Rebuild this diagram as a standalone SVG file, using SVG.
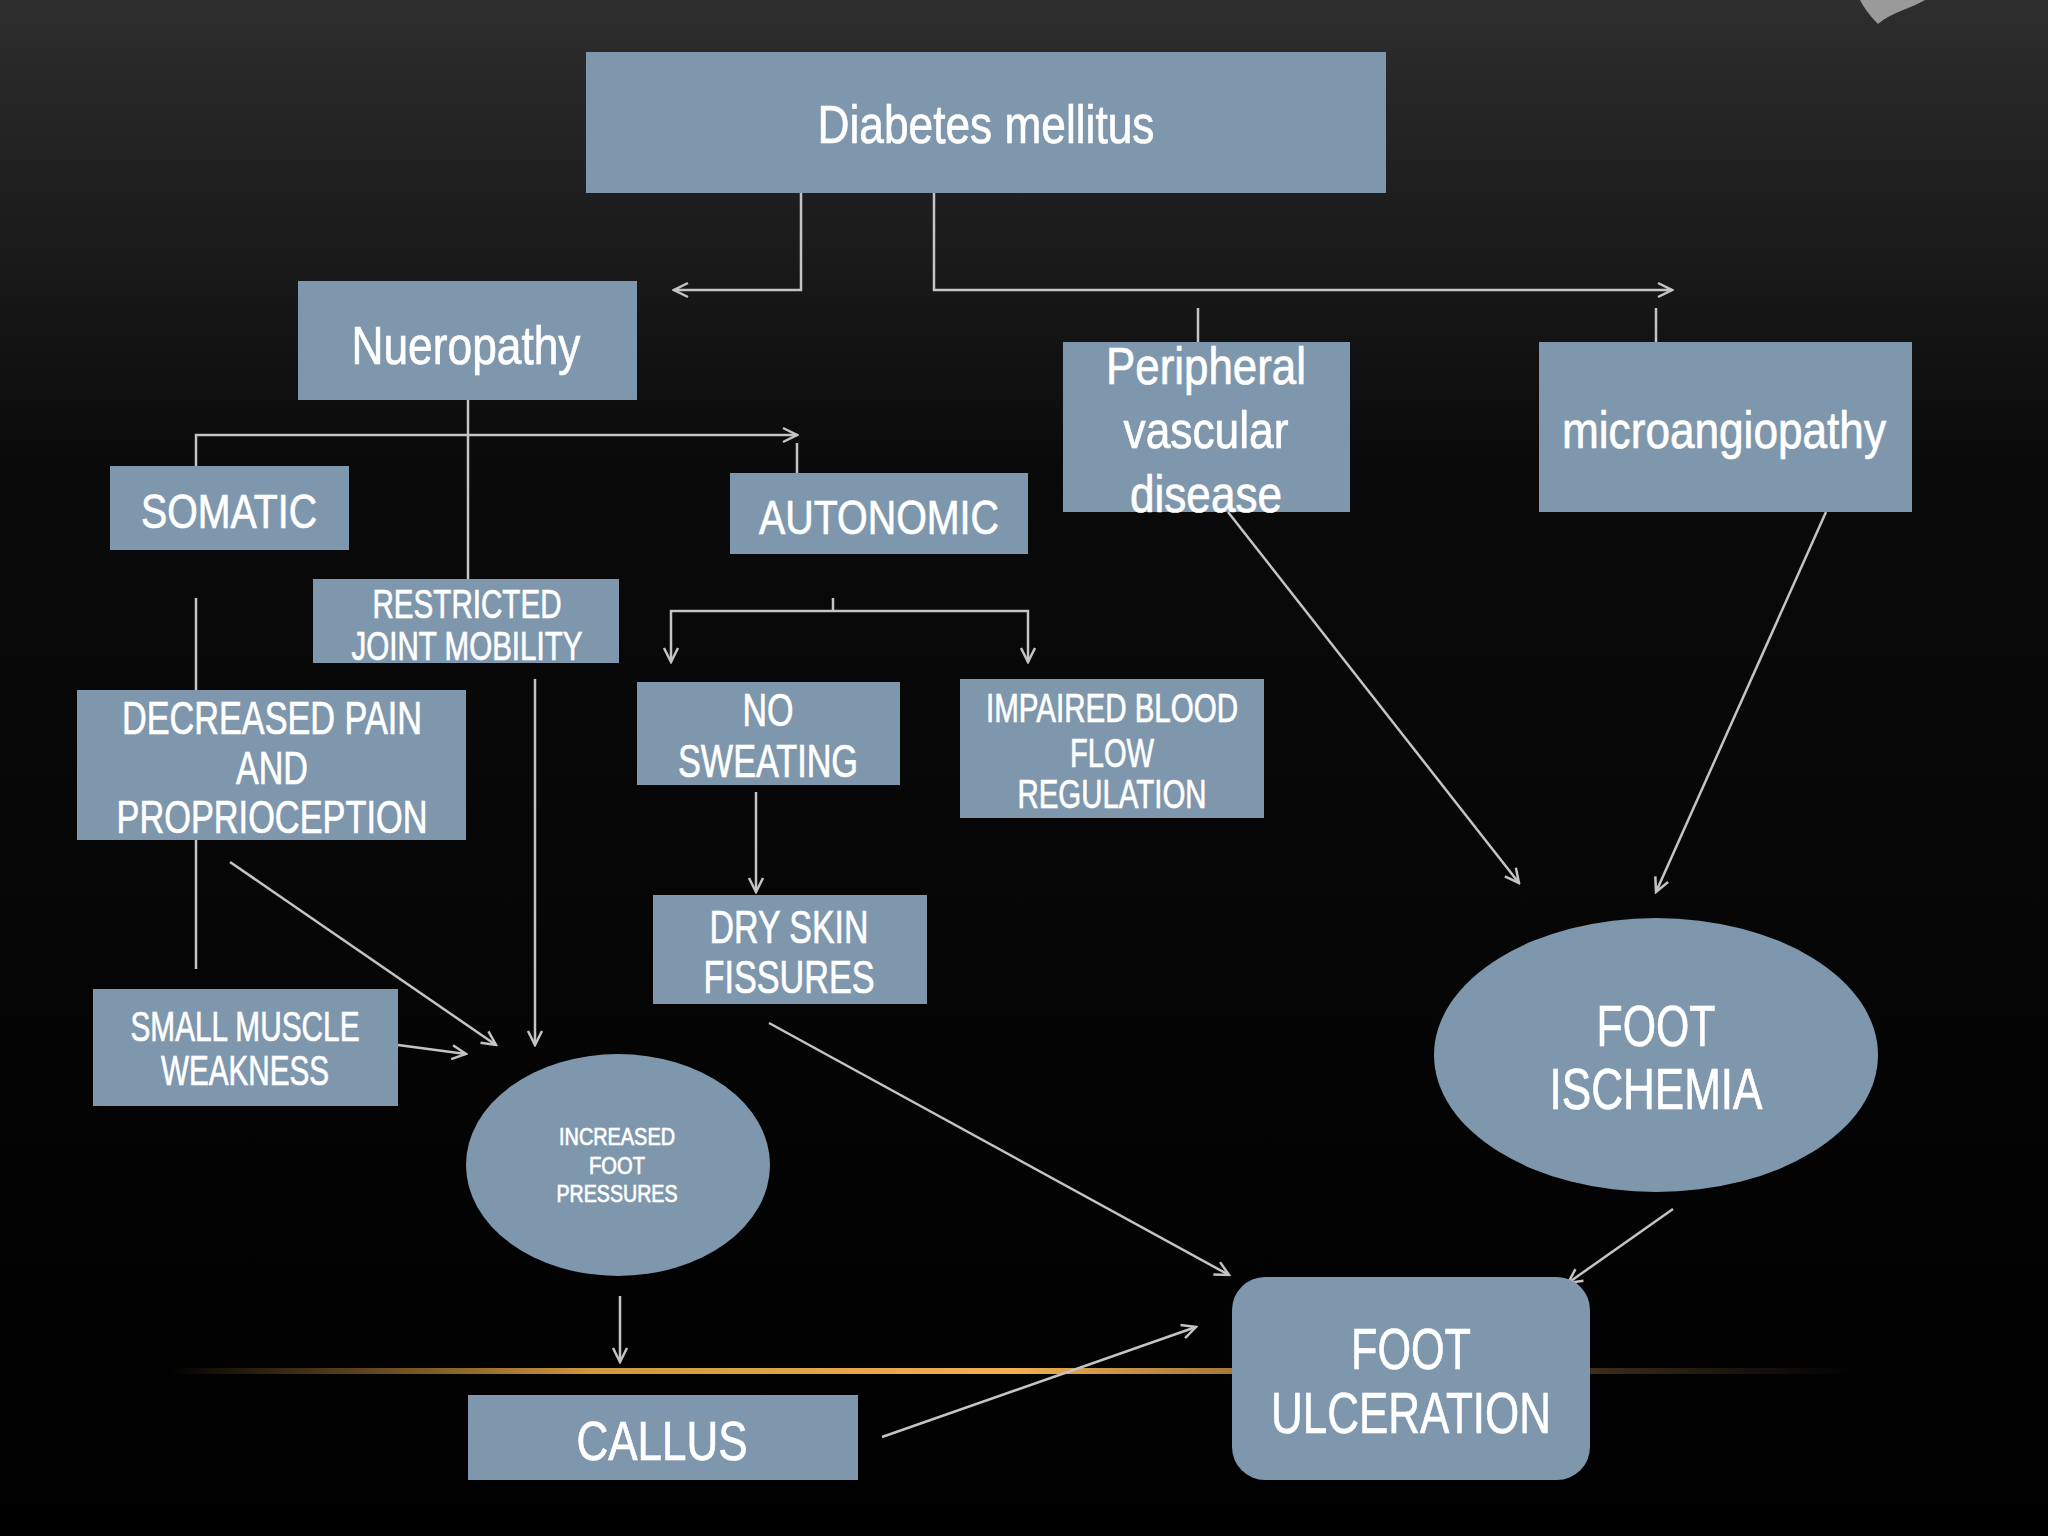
<svg xmlns="http://www.w3.org/2000/svg" width="2048" height="1536" viewBox="0 0 2048 1536">
<defs>
<linearGradient id="bg" x1="0" y1="0" x2="0" y2="1">
<stop offset="0" stop-color="#2e2e2e"/>
<stop offset="0.12" stop-color="#1f1f1f"/>
<stop offset="0.3" stop-color="#0a0a0a"/>
<stop offset="1" stop-color="#000000"/>
</linearGradient>
<radialGradient id="haze" cx="0.5" cy="1" r="0.5">
<stop offset="0" stop-color="#3c3c3c" stop-opacity="0.9"/>
<stop offset="1" stop-color="#000000" stop-opacity="0"/>
</radialGradient>
<linearGradient id="gold" x1="0" y1="0" x2="1" y2="0">
<stop offset="0" stop-color="#e0a040" stop-opacity="0"/>
<stop offset="0.25" stop-color="#e8a845" stop-opacity="0.9"/>
<stop offset="0.5" stop-color="#f0b050" stop-opacity="1"/>
<stop offset="0.75" stop-color="#b08040" stop-opacity="0.6"/>
<stop offset="1" stop-color="#806040" stop-opacity="0"/>
</linearGradient>
<clipPath id="above"><rect x="0" y="0" width="2048" height="1370"/></clipPath>
<marker id="arr" markerWidth="18" markerHeight="18" refX="16" refY="9" orient="auto" markerUnits="userSpaceOnUse">
<path d="M2,2 L16,9 L2,16" fill="none" stroke="#c4c4c4" stroke-width="2.5"/>
</marker>
<style>
.box{fill:#7f97ad;}
.t{fill:#ffffff;stroke:#ffffff;stroke-width:0.7;font-family:"Liberation Sans",Arial,sans-serif;text-anchor:middle;}
.ln{fill:none;stroke:#c4c4c4;stroke-width:2.5;}
.ar{marker-end:url(#arr);}
</style>
</defs>
<rect width="2048" height="1536" fill="url(#bg)"/>
<ellipse cx="980" cy="1372" rx="620" ry="220" fill="url(#haze)" clip-path="url(#above)"/>
<rect x="170" y="1368" width="1690" height="6" fill="url(#gold)"/>
<path d="M1860,0 L1925,0 C1912,8 1892,12 1878,24 C1870,16 1864,8 1860,0 Z" fill="#9a9a9a"/>

<g id="connectors">
<path class="ln ar" d="M801,193 V290 H674"/>
<path class="ln ar" d="M934,193 V290 H1672"/>
<path class="ln" d="M1198,308 V342"/>
<path class="ln" d="M1656,308 V342"/>
<path class="ln" d="M468,400 V579"/>
<path class="ln ar" d="M196,466 V435 H797"/>
<path class="ln" d="M797,443 V473"/>
<path class="ln" d="M833,598 V611"/>
<path class="ln ar" d="M833,611 H671 V662"/>
<path class="ln ar" d="M833,611 H1028 V662"/>
<path class="ln" d="M196,598 V969"/>
<path class="ln ar" d="M535,679 V1045"/>
<path class="ln ar" d="M230,862 L496,1045"/>
<path class="ln ar" d="M398,1045 L466,1054"/>
<path class="ln ar" d="M756,792 V892"/>
<path class="ln ar" d="M769,1023 L1229,1275"/>
<path class="ln ar" d="M620,1296 V1362"/>
<path class="ln ar" d="M882,1437 L1196,1327"/>
<path class="ln ar" d="M1228,512 L1519,883"/>
<path class="ln ar" d="M1826,512 L1656,892"/>
<path class="ln ar" d="M1673,1209 L1568,1283"/>
</g>

<g id="diabetes"><rect class="box" x="586" y="52" width="800" height="141"/>
<text class="t" x="986" y="143" font-size="54" textLength="337" lengthAdjust="spacingAndGlyphs">Diabetes mellitus</text></g>

<g id="neuropathy"><rect class="box" x="298" y="281" width="339" height="119"/>
<text class="t" x="466" y="364" font-size="54" textLength="229" lengthAdjust="spacingAndGlyphs">Nueropathy</text></g>

<g id="pvd"><rect class="box" x="1063" y="342" width="287" height="170"/>
<text class="t" x="1206" y="384" font-size="52" textLength="200" lengthAdjust="spacingAndGlyphs">Peripheral</text>
<text class="t" x="1206" y="448" font-size="52" textLength="165" lengthAdjust="spacingAndGlyphs">vascular</text>
<text class="t" x="1206" y="512" font-size="52" textLength="152" lengthAdjust="spacingAndGlyphs">disease</text></g>

<g id="micro"><rect class="box" x="1539" y="342" width="373" height="170"/>
<text class="t" x="1724" y="448" font-size="52" textLength="324" lengthAdjust="spacingAndGlyphs">microangiopathy</text></g>

<g id="somatic"><rect class="box" x="110" y="466" width="239" height="84"/>
<text class="t" x="229" y="528" font-size="48" textLength="176" lengthAdjust="spacingAndGlyphs">SOMATIC</text></g>

<g id="autonomic"><rect class="box" x="730" y="473" width="298" height="81"/>
<text class="t" x="879" y="534" font-size="48" textLength="240" lengthAdjust="spacingAndGlyphs">AUTONOMIC</text></g>

<g id="restricted"><rect class="box" x="313" y="579" width="306" height="84"/>
<text class="t" x="467" y="618" font-size="40" textLength="189" lengthAdjust="spacingAndGlyphs">RESTRICTED</text>
<text class="t" x="467" y="660" font-size="40" textLength="231" lengthAdjust="spacingAndGlyphs">JOINT MOBILITY</text></g>

<g id="decreased"><rect class="box" x="77" y="690" width="389" height="150"/>
<text class="t" x="272" y="734" font-size="46" textLength="300" lengthAdjust="spacingAndGlyphs">DECREASED PAIN</text>
<text class="t" x="272" y="784" font-size="46" textLength="72" lengthAdjust="spacingAndGlyphs">AND</text>
<text class="t" x="272" y="833" font-size="46" textLength="311" lengthAdjust="spacingAndGlyphs">PROPRIOCEPTION</text></g>

<g id="nosweat"><rect class="box" x="637" y="682" width="263" height="103"/>
<text class="t" x="768" y="726" font-size="46" textLength="51" lengthAdjust="spacingAndGlyphs">NO</text>
<text class="t" x="768" y="777" font-size="46" textLength="180" lengthAdjust="spacingAndGlyphs">SWEATING</text></g>

<g id="impaired"><rect class="box" x="960" y="679" width="304" height="139"/>
<text class="t" x="1112" y="722" font-size="40" textLength="252" lengthAdjust="spacingAndGlyphs">IMPAIRED BLOOD</text>
<text class="t" x="1112" y="767" font-size="40" textLength="84" lengthAdjust="spacingAndGlyphs">FLOW</text>
<text class="t" x="1112" y="808" font-size="40" textLength="189" lengthAdjust="spacingAndGlyphs">REGULATION</text></g>

<g id="dryskin"><rect class="box" x="653" y="895" width="274" height="109"/>
<text class="t" x="789" y="943" font-size="46" textLength="159" lengthAdjust="spacingAndGlyphs">DRY SKIN</text>
<text class="t" x="789" y="993" font-size="46" textLength="171" lengthAdjust="spacingAndGlyphs">FISSURES</text></g>

<g id="smallmuscle"><rect class="box" x="93" y="989" width="305" height="117"/>
<text class="t" x="245" y="1041" font-size="42" textLength="229" lengthAdjust="spacingAndGlyphs">SMALL MUSCLE</text>
<text class="t" x="245" y="1085" font-size="42" textLength="168" lengthAdjust="spacingAndGlyphs">WEAKNESS</text></g>

<g id="pressures"><ellipse class="box" cx="618" cy="1165" rx="152" ry="111"/>
<text class="t" x="617" y="1145" font-size="24" textLength="116" lengthAdjust="spacingAndGlyphs">INCREASED</text>
<text class="t" x="617" y="1174" font-size="24" textLength="56" lengthAdjust="spacingAndGlyphs">FOOT</text>
<text class="t" x="617" y="1202" font-size="24" textLength="121" lengthAdjust="spacingAndGlyphs">PRESSURES</text></g>

<g id="callus"><rect class="box" x="468" y="1395" width="390" height="85"/>
<text class="t" x="662" y="1460" font-size="56" textLength="171" lengthAdjust="spacingAndGlyphs">CALLUS</text></g>

<g id="ischemia"><ellipse class="box" cx="1656" cy="1055" rx="222" ry="137"/>
<text class="t" x="1656" y="1046" font-size="58" textLength="119" lengthAdjust="spacingAndGlyphs">FOOT</text>
<text class="t" x="1656" y="1109" font-size="58" textLength="213" lengthAdjust="spacingAndGlyphs">ISCHEMIA</text></g>

<g id="ulceration"><rect class="box" x="1232" y="1277" width="358" height="203" rx="33" ry="33"/>
<text class="t" x="1411" y="1369" font-size="58" textLength="120" lengthAdjust="spacingAndGlyphs">FOOT</text>
<text class="t" x="1411" y="1433" font-size="58" textLength="280" lengthAdjust="spacingAndGlyphs">ULCERATION</text></g>
</svg>
